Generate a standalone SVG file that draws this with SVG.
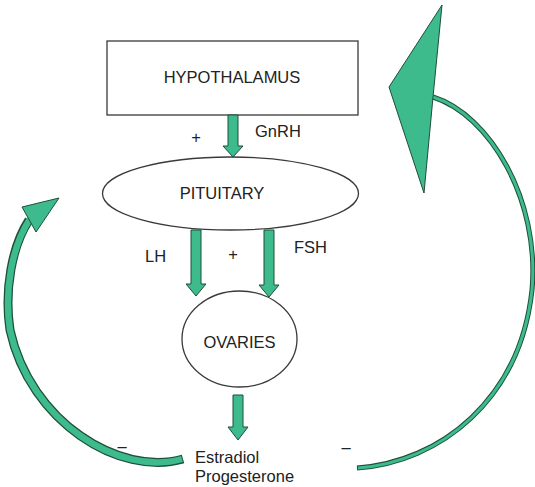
<svg xmlns="http://www.w3.org/2000/svg" width="535" height="487" viewBox="0 0 535 487">
<style>
.node{fill:#fff;stroke:#3a3a3a;stroke-width:1.3}
.lbl{font-family:"Liberation Sans",Arial,sans-serif;font-size:16.5px;fill:#222}
.blk{fill:#3dbb8c;stroke:#1d4f3b;stroke-width:1;stroke-linejoin:miter}
.outl{fill:none;stroke:#1d4f3b}
.inn{fill:none;stroke:#3dbb8c}
</style>
<rect width="535" height="487" fill="#fff"/>
<g id="hypothalamus">
<rect class="node" x="107" y="41" width="251" height="74"/>
<text class="lbl" x="232" y="83" text-anchor="middle">HYPOTHALAMUS</text>
</g>
<g id="pituitary">
<ellipse class="node" cx="230.5" cy="193.5" rx="128" ry="36.5"/>
<text class="lbl" x="222" y="199" text-anchor="middle">PITUITARY</text>
</g>
<g id="ovaries">
<ellipse class="node" cx="239.5" cy="339" rx="57.5" ry="48"/>
<text class="lbl" x="239.5" y="348" text-anchor="middle">OVARIES</text>
</g>
<g id="steroids">
<text class="lbl" x="195" y="463">Estradiol</text>
<text class="lbl" x="195" y="482">Progesterone</text>
</g>
<g id="connectors">
<polygon class="blk" points="228,115 238,115 238,146 243,146 233,157 223,146 228,146"/>
<polygon class="blk" points="191,230 201,230 201,284 206,284 196,296 186,284 191,284"/>
<polygon class="blk" points="264,230 274,230 274,285 279,285 269,297 259,285 264,285"/>
<polygon class="blk" points="233,395 243,395 243,427 248,427 238,440 228,427 233,427"/>
<path class="outl" stroke-width="9" d="M183,459 C120,477 30,422 10,330 C4,290 12,246 29,220"/>
<path class="inn" stroke-width="6.5" d="M182,459 C120,477 30,422 10,330 C4,290 12,246 30,219"/>
<polygon class="blk" points="22,207 59,198 36,232"/>
<path class="outl" stroke-width="5" d="M357,468 C440,462 520,400 532,290 C540,200 490,115 433,97"/>
<path class="inn" stroke-width="3" d="M358,468 C440,462 520,400 532,290 C540,200 490,115 433,97"/>
<polygon class="blk" points="442,5 389,87 424,193 433,97"/>
<text class="lbl" x="196" y="143" text-anchor="middle">+</text>
<text class="lbl" x="255" y="137">GnRH</text>
<text class="lbl" x="145" y="262">LH</text>
<text class="lbl" x="233" y="260" text-anchor="middle">+</text>
<text class="lbl" x="294" y="253">FSH</text>
<text class="lbl" x="122" y="452" text-anchor="middle">–</text>
<text class="lbl" x="346" y="453" text-anchor="middle">–</text>
</g>
</svg>
